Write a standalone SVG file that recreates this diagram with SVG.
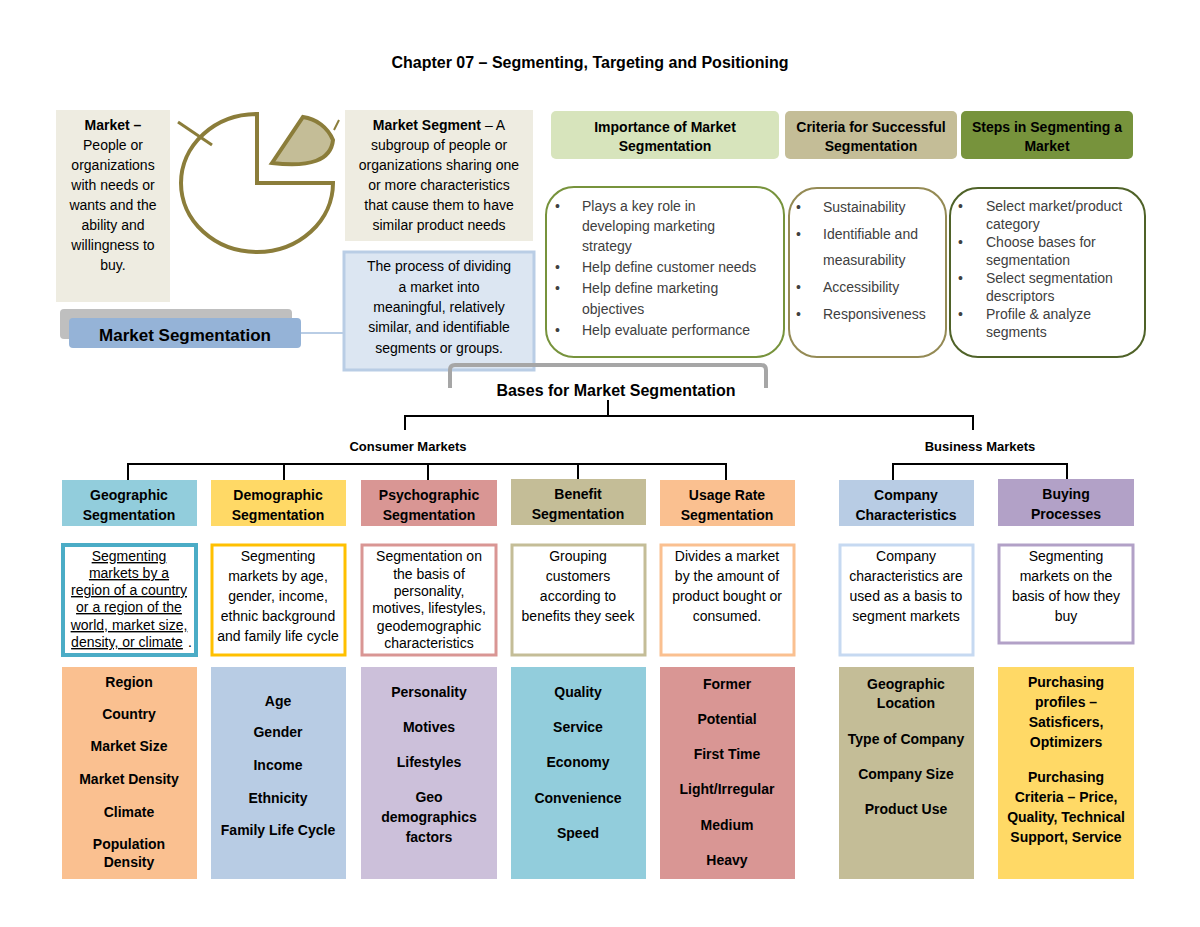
<svg xmlns="http://www.w3.org/2000/svg" width="1200" height="927" viewBox="0 0 1200 927">
<style>
text{font-family:"Liberation Sans",Arial,sans-serif;fill:#000}
.t{font-size:14px;text-anchor:middle}
.b{font-weight:bold}
.h{font-size:14px;font-weight:bold;text-anchor:middle}
.g{font-size:14px;fill:#404040}
.ln{stroke:#000;stroke-width:2;fill:none}
</style>
<rect width="1200" height="927" fill="#fff"/>
<text x="590" y="68" font-size="16" class="b" text-anchor="middle">Chapter 07 – Segmenting, Targeting and Positioning</text>

<g id="market">
<rect x="56" y="110" width="114" height="192" fill="#eeece1"/>
<text class="t"><tspan x="113" y="130" class="b">Market –</tspan><tspan x="113" y="150">People or</tspan><tspan x="113" y="170">organizations</tspan><tspan x="113" y="190">with needs or</tspan><tspan x="113" y="210">wants and the</tspan><tspan x="113" y="230">ability and</tspan><tspan x="113" y="250">willingness to</tspan><tspan x="113" y="270">buy.</tspan></text>
</g>
<g id="pie" stroke="#8b7d3a" stroke-width="4">
<path d="M257,183 L333,183 A76,69 0 1 1 257,114 Z" fill="#fff"/>
<line x1="178" y1="122" x2="212" y2="145" stroke-width="3"/>
<path d="M272,163 L303,117 A38,38 0 0 1 333,140 Q330,170 272,163 Z" fill="#c4bd97"/>
<line x1="334" y1="130" x2="339" y2="120" stroke-width="2"/>
</g>
<g id="segment">
<rect x="345" y="110" width="188" height="131" fill="#eeece1"/>
<text class="t"><tspan x="439" y="130"><tspan class="b">Market Segment</tspan> – A</tspan><tspan x="439" y="150">subgroup of people or</tspan><tspan x="439" y="170">organizations sharing one</tspan><tspan x="439" y="190">or more characteristics</tspan><tspan x="439" y="210">that cause them to have</tspan><tspan x="439" y="230">similar product needs</tspan></text>
</g>
<g id="process">
<rect x="344" y="252" width="190" height="118" fill="#dce6f2" stroke="#b9cde5" stroke-width="3"/>
<text class="t"><tspan x="439" y="271">The process of dividing</tspan><tspan x="439" y="292">a market into</tspan><tspan x="439" y="312">meaningful, relatively</tspan><tspan x="439" y="332">similar, and identifiable</tspan><tspan x="439" y="353">segments or groups.</tspan></text>
</g>
<g id="marketseg">
<rect x="60" y="309" width="232" height="30" rx="4" fill="#bfbfbf"/>
<rect x="69" y="318" width="232" height="30" rx="4" fill="#95b3d7"/>
<text x="185" y="341" font-size="17" class="b" text-anchor="middle">Market Segmentation</text>
</g>

<g id="importance">
<rect x="551" y="111" width="228" height="48" rx="5" fill="#d7e4bc"/>
<text class="h"><tspan x="665" y="132">Importance of Market</tspan><tspan x="665" y="151">Segmentation</tspan></text>
<rect x="546" y="187" width="238" height="170" rx="28" fill="#fff" stroke="#77933c" stroke-width="2"/>
<text class="g"><tspan x="555" y="211">•</tspan><tspan x="582" y="211">Plays a key role in</tspan><tspan x="582" y="231">developing marketing</tspan><tspan x="582" y="251">strategy</tspan><tspan x="555" y="272">•</tspan><tspan x="582" y="272">Help define customer needs</tspan><tspan x="555" y="293">•</tspan><tspan x="582" y="293">Help define marketing</tspan><tspan x="582" y="314">objectives</tspan><tspan x="555" y="335">•</tspan><tspan x="582" y="335">Help evaluate performance</tspan></text>
</g>
<g id="criteria">
<rect x="785" y="111" width="172" height="48" rx="5" fill="#c4bd97"/>
<text class="h"><tspan x="871" y="132">Criteria for Successful</tspan><tspan x="871" y="151">Segmentation</tspan></text>
<rect x="789" y="188" width="157" height="169" rx="28" fill="#fff" stroke="#948a54" stroke-width="2"/>
<text class="g"><tspan x="796" y="212">•</tspan><tspan x="823" y="212">Sustainability</tspan><tspan x="796" y="239">•</tspan><tspan x="823" y="239">Identifiable and</tspan><tspan x="823" y="265">measurability</tspan><tspan x="796" y="292">•</tspan><tspan x="823" y="292">Accessibility</tspan><tspan x="796" y="319">•</tspan><tspan x="823" y="319">Responsiveness</tspan></text>
</g>
<g id="steps">
<rect x="961" y="111" width="172" height="48" rx="5" fill="#77933c"/>
<text class="h"><tspan x="1047" y="132">Steps in Segmenting a</tspan><tspan x="1047" y="151">Market</tspan></text>
<rect x="950" y="188" width="195" height="169" rx="28" fill="#fff" stroke="#4f6228" stroke-width="2"/>
<text class="g"><tspan x="958" y="211">•</tspan><tspan x="986" y="211">Select market/product</tspan><tspan x="986" y="229">category</tspan><tspan x="958" y="247">•</tspan><tspan x="986" y="247">Choose bases for</tspan><tspan x="986" y="265">segmentation</tspan><tspan x="958" y="283">•</tspan><tspan x="986" y="283">Select segmentation</tspan><tspan x="986" y="301">descriptors</tspan><tspan x="958" y="319">•</tspan><tspan x="986" y="319">Profile &amp; analyze</tspan><tspan x="986" y="337">segments</tspan></text>
</g>

<g id="connectors">
<line x1="301" y1="333" x2="344" y2="333" stroke="#b9cde5" stroke-width="2"/>
<path class="ln" d="M608,400V416M405,430V416H973V430"/>
<path class="ln" d="M128,480V464H726V480M284,464V480M428,464V480M578,464V480M893,480V464H1067V480"/>
</g>

<g id="bases">
<path d="M450,388V370Q450,365 455,365H761Q766,365 766,370V388" fill="none" stroke="#a6a6a6" stroke-width="4"/>
<text x="616" y="396" font-size="16" class="b" text-anchor="middle">Bases for Market Segmentation</text>
</g>
<text x="408" y="451" font-size="13" class="b" text-anchor="middle">Consumer Markets</text>
<text x="980" y="451" font-size="13" class="b" text-anchor="middle">Business Markets</text>

<g id="geographic">
<rect x="62" y="480" width="135" height="46" fill="#92cddc"/>
<text class="h"><tspan x="129" y="500">Geographic</tspan><tspan x="129" y="520">Segmentation</tspan></text>
<rect x="63" y="545" width="133" height="110" fill="#fff" stroke="#4bacc6" stroke-width="4"/>
<text class="t" text-decoration="underline"><tspan x="129" y="561">Segmenting</tspan><tspan x="129" y="578">markets by a</tspan><tspan x="129" y="595">region of a country</tspan><tspan x="129" y="612">or a region of the</tspan><tspan x="129" y="630">world, market size,</tspan><tspan x="127" y="647">density, or climate</tspan></text>
<text x="188" y="647" font-size="14">.</text>
<rect x="62" y="667" width="135" height="212" fill="#fac090"/>
<text class="h"><tspan x="129" y="687">Region</tspan><tspan x="129" y="719">Country</tspan><tspan x="129" y="751">Market Size</tspan><tspan x="129" y="784">Market Density</tspan><tspan x="129" y="817">Climate</tspan><tspan x="129" y="849">Population</tspan><tspan x="129" y="867">Density</tspan></text>
</g>
<g id="demographic">
<rect x="211" y="480" width="135" height="46" fill="#ffd966"/>
<text class="h"><tspan x="278" y="500">Demographic</tspan><tspan x="278" y="520">Segmentation</tspan></text>
<rect x="212" y="545" width="133" height="110" fill="#fff" stroke="#ffc000" stroke-width="3"/>
<text class="t"><tspan x="278" y="561">Segmenting</tspan><tspan x="278" y="581">markets by age,</tspan><tspan x="278" y="601">gender, income,</tspan><tspan x="278" y="621">ethnic background</tspan><tspan x="278" y="641">and family life cycle</tspan></text>
<rect x="211" y="667" width="135" height="212" fill="#b8cce4"/>
<text class="h"><tspan x="278" y="706">Age</tspan><tspan x="278" y="737">Gender</tspan><tspan x="278" y="770">Income</tspan><tspan x="278" y="803">Ethnicity</tspan><tspan x="278" y="835">Family Life Cycle</tspan></text>
</g>
<g id="psychographic">
<rect x="361" y="480" width="136" height="46" fill="#d99694"/>
<text class="h"><tspan x="429" y="500">Psychographic</tspan><tspan x="429" y="520">Segmentation</tspan></text>
<rect x="362" y="545" width="134" height="110" fill="#fff" stroke="#d99694" stroke-width="3"/>
<text class="t"><tspan x="429" y="561">Segmentation on</tspan><tspan x="429" y="579">the basis of</tspan><tspan x="429" y="596">personality,</tspan><tspan x="429" y="613">motives, lifestyles,</tspan><tspan x="429" y="631">geodemographic</tspan><tspan x="429" y="648">characteristics</tspan></text>
<rect x="361" y="667" width="136" height="212" fill="#ccc0da"/>
<text class="h"><tspan x="429" y="697">Personality</tspan><tspan x="429" y="732">Motives</tspan><tspan x="429" y="767">Lifestyles</tspan><tspan x="429" y="802">Geo</tspan><tspan x="429" y="822">demographics</tspan><tspan x="429" y="842">factors</tspan></text>
</g>
<g id="benefit">
<rect x="511" y="479" width="135" height="46" fill="#c4bd97"/>
<text class="h"><tspan x="578" y="499">Benefit</tspan><tspan x="578" y="519">Segmentation</tspan></text>
<rect x="512" y="545" width="133" height="110" fill="#fff" stroke="#c4bd97" stroke-width="3"/>
<text class="t"><tspan x="578" y="561">Grouping</tspan><tspan x="578" y="581">customers</tspan><tspan x="578" y="601">according to</tspan><tspan x="578" y="621">benefits they seek</tspan></text>
<rect x="511" y="667" width="135" height="212" fill="#92cddc"/>
<text class="h"><tspan x="578" y="697">Quality</tspan><tspan x="578" y="732">Service</tspan><tspan x="578" y="767">Economy</tspan><tspan x="578" y="803">Convenience</tspan><tspan x="578" y="838">Speed</tspan></text>
</g>
<g id="usage">
<rect x="660" y="480" width="135" height="46" fill="#fac090"/>
<text class="h"><tspan x="727" y="500">Usage Rate</tspan><tspan x="727" y="520">Segmentation</tspan></text>
<rect x="661" y="545" width="133" height="110" fill="#fff" stroke="#fac090" stroke-width="3"/>
<text class="t"><tspan x="727" y="561">Divides a market</tspan><tspan x="727" y="581">by the amount of</tspan><tspan x="727" y="601">product bought or</tspan><tspan x="727" y="621">consumed.</tspan></text>
<rect x="660" y="667" width="135" height="212" fill="#d99694"/>
<text class="h"><tspan x="727" y="689">Former</tspan><tspan x="727" y="724">Potential</tspan><tspan x="727" y="759">First Time</tspan><tspan x="727" y="794">Light/Irregular</tspan><tspan x="727" y="830">Medium</tspan><tspan x="727" y="865">Heavy</tspan></text>
</g>
<g id="company">
<rect x="839" y="480" width="135" height="46" fill="#b8cce4"/>
<text class="h"><tspan x="906" y="500">Company</tspan><tspan x="906" y="520">Characteristics</tspan></text>
<rect x="840" y="545" width="133" height="110" fill="#fff" stroke="#c6d9f1" stroke-width="3"/>
<text class="t"><tspan x="906" y="561">Company</tspan><tspan x="906" y="581">characteristics are</tspan><tspan x="906" y="601">used as a basis to</tspan><tspan x="906" y="621">segment markets</tspan></text>
<rect x="839" y="667" width="135" height="212" fill="#c4bd97"/>
<text class="h"><tspan x="906" y="689">Geographic</tspan><tspan x="906" y="708">Location</tspan><tspan x="906" y="744">Type of Company</tspan><tspan x="906" y="779">Company Size</tspan><tspan x="906" y="814">Product Use</tspan></text>
</g>
<g id="buying">
<rect x="998" y="479" width="136" height="47" fill="#b2a1c7"/>
<text class="h"><tspan x="1066" y="499">Buying</tspan><tspan x="1066" y="519">Processes</tspan></text>
<rect x="999" y="545" width="134" height="98" fill="#fff" stroke="#b2a1c7" stroke-width="3"/>
<text class="t"><tspan x="1066" y="561">Segmenting</tspan><tspan x="1066" y="581">markets on the</tspan><tspan x="1066" y="601">basis of how they</tspan><tspan x="1066" y="621">buy</tspan></text>
<rect x="998" y="667" width="136" height="212" fill="#ffd966"/>
<text class="h"><tspan x="1066" y="687">Purchasing</tspan><tspan x="1066" y="707">profiles –</tspan><tspan x="1066" y="727">Satisficers,</tspan><tspan x="1066" y="747">Optimizers</tspan><tspan x="1066" y="782">Purchasing</tspan><tspan x="1066" y="802">Criteria – Price,</tspan><tspan x="1066" y="822">Quality, Technical</tspan><tspan x="1066" y="842">Support, Service</tspan></text>
</g>
</svg>
